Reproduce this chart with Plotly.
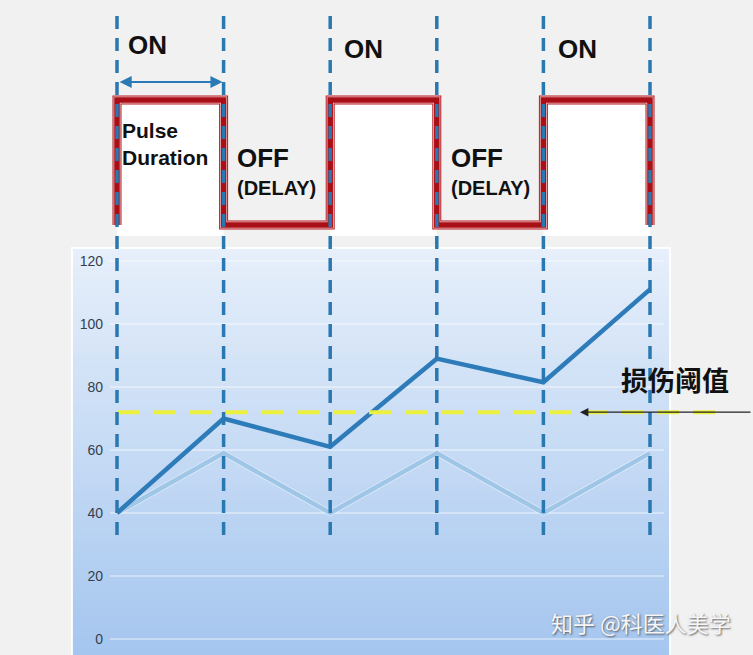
import plotly.graph_objects as go

# ---------------- data ----------------
boundaries = [0, 1, 2, 3, 4, 5]              # pulse period boundaries (x positions)
pulse_states = [1, 0, 1, 0, 1]               # 1 = ON, 0 = OFF per interval
series_dark = [40, 70, 61, 89, 81.5, 111]    # accumulated temperature
series_light = [40, 59, 40, 59, 40, 59]      # per-pulse temperature
threshold = 72                               # 损伤阈值
y_ticks = [0, 20, 40, 60, 80, 100, 120]
y_tick_labels = ["0", "20", "40", "60", "80", "100", "120"]

# ---------------- geometry helpers ----------------
W, H = 753, 655
X0_PX, X_STEP = 117, 106.6          # pixel of x=0, pixels per x unit
Y0_PX, Y_SCALE = 639, 3.15          # pixel of value 0, pixels per value unit
LOW_PX, HIGH_PX = 225, 100          # pulse low / high level pixels


def xv(px):
    return (px - X0_PX) / X_STEP


def fx(px):
    return px / W


def fy(py):
    return 1 - py / H


S2 = LOW_PX - HIGH_PX


def y2v(py):
    return (LOW_PX - py) / S2


fig = go.Figure()

# pulse waveform (built from the states)
px_pulse = [boundaries[0]] + boundaries[:-1] + [boundaries[-1]]
py_pulse = [0] + pulse_states + [0]
fig.add_trace(go.Scatter(x=px_pulse, y=py_pulse, mode="lines", yaxis="y2",
                         line=dict(color="#b51c22", width=9, shape="hv"),
                         hoverinfo="skip", showlegend=False))
fig.add_trace(go.Scatter(x=px_pulse, y=py_pulse, mode="lines", yaxis="y2",
                         line=dict(color="#f2cccc", width=7, shape="hv"),
                         hoverinfo="skip", showlegend=False))
fig.add_trace(go.Scatter(x=px_pulse, y=py_pulse, mode="lines", yaxis="y2",
                         line=dict(color="#a80f16", width=5.5, shape="hv"),
                         hoverinfo="skip", showlegend=False))

# temperature lines
fig.add_trace(go.Scatter(x=boundaries, y=series_light, mode="lines",
                         line=dict(color="rgba(255,255,255,0.5)", width=6),
                         hoverinfo="skip", showlegend=False))
fig.add_trace(go.Scatter(x=boundaries, y=series_light, mode="lines",
                         line=dict(color="#9fc6e7", width=4.5),
                         showlegend=False))
fig.add_trace(go.Scatter(x=boundaries, y=series_dark, mode="lines",
                         line=dict(color="#2d7bb9", width=4.5),
                         showlegend=False))

shapes = []
# panel gradient background
n = 60
top_c, bot_c = (230, 239, 250), (165, 198, 239)
p_top, p_bot, p_left, p_right = 248, 655, 72, 670
for i in range(n):
    t = i / (n - 1)
    c = tuple(int(round(top_c[k] + (bot_c[k] - top_c[k]) * t)) for k in range(3))
    y_a = p_top + (p_bot - p_top) * i / n
    y_b = p_top + (p_bot - p_top) * (i + 1) / n + 1
    shapes.append(dict(type="rect", xref="paper", yref="paper",
                       x0=fx(p_left), x1=fx(p_right), y0=fy(y_b), y1=fy(y_a),
                       fillcolor="rgb(%d,%d,%d)" % c, line=dict(width=0), layer="below"))
shapes.append(dict(type="rect", xref="paper", yref="paper",
                   x0=fx(p_left), x1=fx(p_right), y0=fy(p_bot + 2), y1=fy(p_top),
                   fillcolor="rgba(0,0,0,0)", line=dict(color="rgba(255,255,255,0.9)", width=2),
                   layer="below"))

# white interior of ON pulses
for i, s in enumerate(pulse_states):
    if s == 1:
        shapes.append(dict(type="rect", xref="x", yref="y2",
                           x0=boundaries[i], x1=boundaries[i + 1], y0=y2v(236), y1=1,
                           fillcolor="white", line=dict(width=0), layer="below"))

# gridlines
for v in y_ticks:
    shapes.append(dict(type="line", xref="x", yref="y", x0=xv(110), x1=xv(664), y0=v, y1=v,
                       line=dict(color="rgba(255,255,255,0.75)", width=1), layer="below"))

# threshold dashed line
shapes.append(dict(type="line", xref="x", yref="y", x0=boundaries[0], x1=xv(716),
                   y0=threshold, y1=threshold,
                   line=dict(color="#eaf03c", width=4, dash="22px,14px"), layer="above"))

# vertical dashed period lines
for b in boundaries:
    shapes.append(dict(type="line", xref="x", yref="paper", x0=b, x1=b,
                       y0=fy(535), y1=fy(14),
                       line=dict(color="#2a78b2", width=3.5, dash="13px,9px"), layer="above"))

annotations = []
# pulse duration double arrow
ya = y2v(82)
annotations.append(dict(x=boundaries[1] - 0.01, y=ya, ax=boundaries[0] + 0.01, ay=ya,
                        xref="x", yref="y2", axref="x", ayref="y2", text="",
                        showarrow=True, arrowhead=2, arrowside="end+start",
                        arrowsize=1.1, arrowwidth=2.2, arrowcolor="#2a7ab5",
                        standoff=0, startstandoff=0))
# threshold pointer arrow
annotations.append(dict(x=xv(580), y=threshold, ax=xv(752), ay=threshold,
                        xref="x", yref="y", axref="x", ayref="y", text="",
                        showarrow=True, arrowhead=2, arrowsize=1.4, arrowwidth=1.2,
                        arrowcolor="#222222", standoff=0))

LAT = "Arial, Liberation Sans, sans-serif"
CJK = "Noto Sans CJK SC, sans-serif"


def label(text, x, y, size, xanchor="left", family=LAT, color="#111111", **kw):
    annotations.append(dict(text=text, x=fx(x), y=fy(y), xref="paper", yref="paper",
                            xanchor=xanchor, yanchor="middle", showarrow=False,
                            font=dict(family=family, size=size, color=color, **kw), align="left"))


label("<b>ON</b>", 126, 45, 26)
label("<b>ON</b>", 342, 49, 26)
label("<b>ON</b>", 556, 49, 26)
label("<b>Pulse<br>Duration</b>", 120, 144, 21)
label("<b>OFF</b>", 235, 158, 26)
label("<b>(DELAY)</b>", 235, 188, 20)
label("<b>OFF</b>", 449, 158, 26)
label("<b>(DELAY)</b>", 449, 188, 20)
label("<b>损伤阈值</b>", 675, 379, 27, xanchor="center", family=CJK)
label("知乎 @科医人美学", 641, 622, 22, xanchor="center", family=CJK, color="#f6f6f6",
      shadow="1px 1px 2px rgba(60,60,60,0.8)")

fig.update_layout(
    width=W, height=H, margin=dict(l=0, r=0, t=0, b=0),
    paper_bgcolor="#f1f1f1", plot_bgcolor="rgba(0,0,0,0)",
    showlegend=False,
    xaxis=dict(domain=[0, 1], range=[xv(0), xv(W)], visible=False, fixedrange=True),
    yaxis=dict(domain=[0, 1], range=[(Y0_PX - H) / Y_SCALE, Y0_PX / Y_SCALE],
               anchor="free", position=fx(103), showgrid=False, zeroline=False,
               showline=False, ticks="", tickvals=y_ticks, ticktext=y_tick_labels,
               tickfont=dict(family=LAT, size=14, color="#333e50"), fixedrange=True),
    yaxis2=dict(overlaying="y", range=[-(H - LOW_PX) / S2, LOW_PX / S2], visible=False,
                fixedrange=True),
    shapes=shapes, annotations=annotations,
)

fig.write_html("out.html", config={"displayModeBar": False},
               post_script="document.body.style.margin='0';document.body.style.overflow='hidden';")
